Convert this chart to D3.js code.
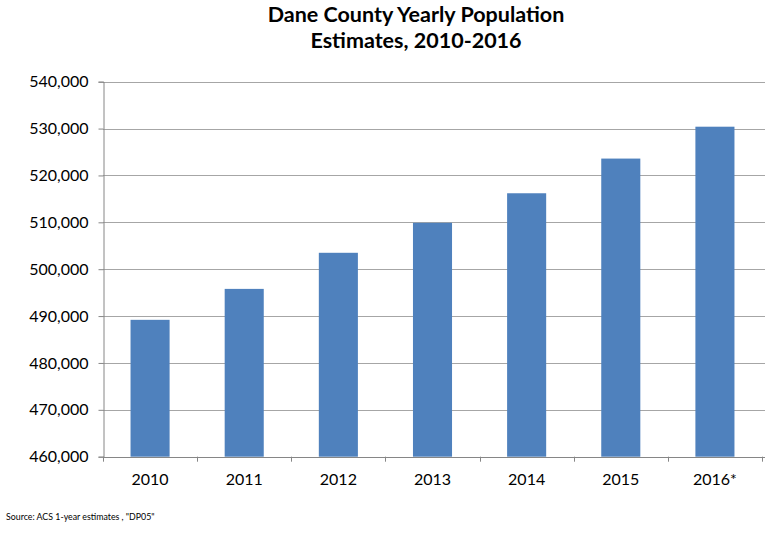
<!DOCTYPE html>
<html><head><meta charset="utf-8">
<script src="https://cdn.jsdelivr.net/npm/d3@7"></script>
<style>body{margin:0;background:#fff}svg{display:block}</style>
</head><body>
<script>
const categories = ["2010","2011","2012","2013","2014","2015","2016*"];
const population = [489200, 495800, 503500, 509900, 516200, 523600, 530400];
const yTicks = [460000,470000,480000,490000,500000,510000,520000,530000,540000];
const titleLines = ["Dane County Yearly Population","Estimates, 2010-2016"];
const sourceText = 'Source: ACS 1-year estimates , "DP05"';

const W=768,H=541;
const font='Lato, "Open Sans", sans-serif';
const svg=d3.select("body").append("svg").attr("width",W).attr("height",H);
const L=103,R=762,T=81.7,B=456.7;
const x=d3.scaleBand().domain(categories).range([L,R]).paddingInner(0.585).paddingOuter(0.2925);
const y=d3.scaleLinear().domain([460000,540000]).range([B,T]);

svg.append("g").selectAll("text").data(titleLines).join("text")
 .attr("x",416).attr("y",(d,i)=>21.5+i*26).attr("text-anchor","middle")
 .attr("font-family",font).attr("font-weight","bold").attr("font-size",21.5).attr("fill","#000").text(d=>d);

// gridlines
svg.append("g").selectAll("line").data(yTicks.slice(1)).join("line")
 .attr("x1",L).attr("x2",765).attr("y1",d=>Math.round(y(d))+0.5).attr("y2",d=>Math.round(y(d))+0.5)
 .attr("stroke","#a6a6a6").attr("stroke-width",1);

// bars
svg.append("g").selectAll("rect").data(population).join("rect")
 .attr("x",(d,i)=>x(categories[i])).attr("width",x.bandwidth())
 .attr("y",d=>y(d)).attr("height",d=>B-y(d)).attr("fill","#4f81bd");

// y axis
const ya=svg.append("g").attr("transform",`translate(${L+0.5},0)`)
 .call(d3.axisLeft(y).tickValues(yTicks).tickFormat(d3.format(",")).tickSize(5).tickPadding(10));
ya.select(".domain").attr("stroke","#868686");
ya.selectAll(".tick line").attr("stroke","#868686");
ya.selectAll("text").attr("font-family",font).attr("font-size",16).attr("fill","#000");

// x axis
const xa=svg.append("g").attr("transform",`translate(0,${Math.round(B)+0.5})`)
 .call(d3.axisBottom(x).tickSize(0).tickPadding(16));
xa.select(".domain").attr("stroke","#868686").attr("d",`M${L},0H765`);
xa.selectAll("text").attr("font-family",font).attr("font-size",16).attr("fill","#000");
svg.append("g").selectAll("line").data(d3.range(categories.length+1)).join("line")
 .attr("x1",i=>Math.round(L+i*(R-L)/categories.length)+0.5).attr("x2",i=>Math.round(L+i*(R-L)/categories.length)+0.5)
 .attr("y1",B).attr("y2",B+5).attr("stroke","#868686");

svg.append("text").attr("x",6).attr("y",520).attr("font-family",font).attr("font-size",8.8).attr("fill","#000").text(sourceText);
</script>
</body></html>
